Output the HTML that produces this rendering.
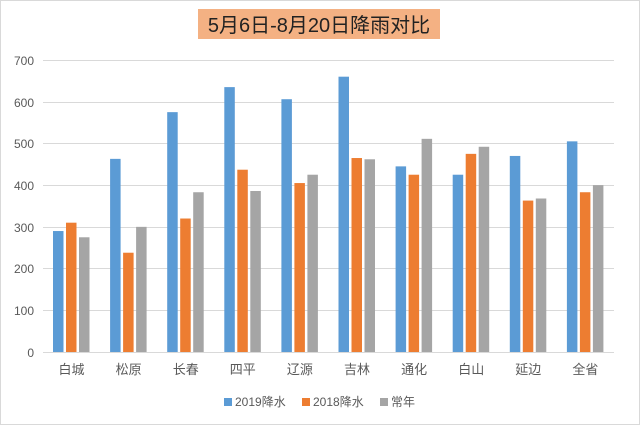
<!DOCTYPE html>
<html><head><meta charset="utf-8"><style>
body{margin:0;background:#fff}
svg text{font-family:"Liberation Sans","Noto Sans CJK SC",sans-serif;fill:#595959}
</style></head><body>
<svg width="640" height="425" xmlns="http://www.w3.org/2000/svg">
<rect x="0.5" y="0.5" width="639" height="424" fill="#fff" stroke="#d9d9d9"/>
<rect x="198" y="9" width="242" height="30" fill="#f4b183"/>
<text x="319" y="32" font-size="20" text-anchor="middle" style="fill:#222">5月6日-8月20日降雨对比</text>
<g stroke="#d9d9d9" stroke-width="1">
<line x1="43" x2="614" y1="60.5" y2="60.5"/>
<line x1="43" x2="614" y1="102.5" y2="102.5"/>
<line x1="43" x2="614" y1="143.5" y2="143.5"/>
<line x1="43" x2="614" y1="185.5" y2="185.5"/>
<line x1="43" x2="614" y1="227.5" y2="227.5"/>
<line x1="43" x2="614" y1="268.5" y2="268.5"/>
<line x1="43" x2="614" y1="310.5" y2="310.5"/>
<line x1="43" x2="614" y1="352.5" y2="352.5"/>
</g>
<g font-size="12" text-anchor="end">
<text x="34" y="65">700</text><text x="34" y="107">600</text><text x="34" y="148">500</text><text x="34" y="190">400</text><text x="34" y="232">300</text><text x="34" y="273">200</text><text x="34" y="315">100</text><text x="34" y="357">0</text>
</g>
<g id="bars"></g>
<g font-size="13" text-anchor="middle" id="labels"></g>
<rect x="224" y="398" width="8" height="8" fill="#5b9bd5"/><text x="235" y="406" font-size="12">2019降水</text>
<rect x="302" y="398" width="8" height="8" fill="#ed7d31"/><text x="313" y="406" font-size="12">2018降水</text>
<rect x="380" y="398" width="8" height="8" fill="#a5a5a5"/><text x="391" y="406" font-size="12">常年</text>
<script>
var d=[["白城",290,310,275],["松原",463,238,300],["长春",575,320,383],["四平",635,437,386],["辽源",606,405,425],["吉林",660,465,462],["通化",445,425,511],["白山",425,475,492],["延边",470,363,368],["全省",505,383,400]];
var c=["#5b9bd5","#ed7d31","#a5a5a5"],g=document.getElementById("bars"),l=document.getElementById("labels"),ns="http://www.w3.org/2000/svg";
d.forEach(function(r,i){var x0=43+i*57.1;for(var k=0;k<3;k++){var h=r[k+1]*292/700;var e=document.createElementNS(ns,"rect");e.setAttribute("x",x0+10+k*13);e.setAttribute("width",10.5);e.setAttribute("y",352-h);e.setAttribute("height",h);e.setAttribute("fill",c[k]);g.appendChild(e);}
var t=document.createElementNS(ns,"text");t.setAttribute("x",x0+28.5);t.setAttribute("y",374);t.textContent=r[0];l.appendChild(t);});
</script>
</svg>
</body></html>
